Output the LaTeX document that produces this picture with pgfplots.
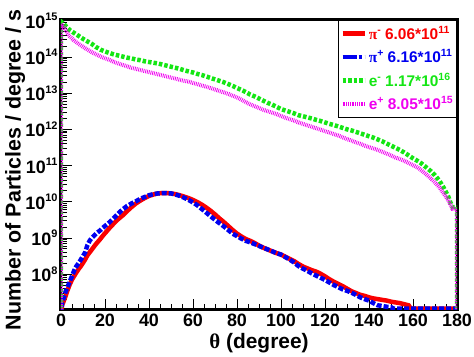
\documentclass[border=0pt]{standalone}
\usepackage{fontspec}
\setmainfont{Liberation Sans}
\newfontfamily\symf{Liberation Serif}
\usepackage{pgfplots}
\pgfplotsset{compat=1.18}
\definecolor{rgreen}{RGB}{20,230,20}
\definecolor{rmag}{RGB}{240,0,240}
\definecolor{rblue}{RGB}{0,0,240}
\definecolor{rred}{RGB}{250,0,0}
\newcommand\tp[1]{\mbox{10\raisebox{0.8ex}{\fontsize{11}{11}\selectfont #1}}}
\newcommand\lsup[1]{\raisebox{0.75ex}{\fontsize{10.5}{10.5}\selectfont #1}}
\begin{document}
\begin{tikzpicture}
\begin{axis}[
  scale only axis, width=396bp, height=290bp,
  xmin=0, xmax=180, ymin=7.01, ymax=15.02,
  axis line style={line width=3bp},
  tick align=inside, xtick pos=left, ytick pos=left,
  xtick={0,20,...,180}, minor x tick num=3,
  ytick={8,9,10,11,12,13,14,15},
  yticklabels={\tp{8},\tp{9},\tp{10},\tp{11},\tp{12},\tp{13},\tp{14},\tp{15}},
  minor ytick={7.301,7.477,7.602,7.699,7.778,7.845,7.903,7.954,
    8.301,8.477,8.602,8.699,8.778,8.845,8.903,8.954,
    9.301,9.477,9.602,9.699,9.778,9.845,9.903,9.954,
    10.301,10.477,10.602,10.699,10.778,10.845,10.903,10.954,
    11.301,11.477,11.602,11.699,11.778,11.845,11.903,11.954,
    12.301,12.477,12.602,12.699,12.778,12.845,12.903,12.954,
    13.301,13.477,13.602,13.699,13.778,13.845,13.903,13.954,
    14.301,14.477,14.602,14.699,14.778,14.845,14.903,14.954},
  major tick length=11bp, minor tick length=6bp,
  every tick/.style={black, line width=0.8bp},
  tick label style={font=\fontsize{18}{18}\selectfont\bfseries},
  /pgf/number format/assume math mode=true,
  xlabel={{\symf θ} (degree)},
  ylabel={Number of Particles / degree / s},
  xlabel style={at={(rel axis cs:0.5,-0.114)}, anchor=center, font=\fontsize{21}{22}\selectfont\bfseries},
  ylabel style={at={(rel axis cs:-0.116,0.483)}, anchor=center, font=\fontsize{21.5}{22}\selectfont\bfseries},
  legend style={at={(rel axis cs:1,1)}, anchor=north east, draw=black, line width=0.6bp, fill=white,
    font=\fontsize{15.5}{15.5}\selectfont\bfseries, row sep=4.5bp, inner xsep=2bp, inner ysep=4bp,
    nodes={inner xsep=2bp}},
  legend cell align=left,
]
\coordinate (sw) at (rel axis cs:0,0);
\coordinate (ne) at (rel axis cs:1,1);
% pi- (log10 values)
\addplot[rred, line width=4.5bp, forget plot] coordinates {
(0,6.9)(0.5,7.15)(1,7.22)(2,7.38)(3,7.56)(4,7.72)(5,7.85)(6,7.95)(7,8.05)(8,8.14)(9,8.22)(10,8.31)(11,8.41)(12,8.52)(13,8.6)(14,8.68)(15,8.76)(16,8.84)(17,8.91)(18,8.98)(19,9.06)(20,9.13)(22,9.27)(24,9.40)(26,9.52)(28,9.62)(30,9.74)(32,9.85)(34,9.95)(36,10.03)(38,10.10)(40,10.16)(42,10.20)(44,10.23)(46,10.24)(48,10.24)(50,10.23)(52,10.21)(54,10.18)(56,10.14)(58,10.10)(60,10.05)(62,9.99)(64,9.92)(66,9.84)(68,9.75)(70,9.65)(72,9.54)(74,9.44)(76,9.33)(78,9.22)(80,9.12)(82,9.04)(84,8.97)(86,8.92)(88,8.86)(90,8.79)(92,8.73)(94,8.68)(96,8.63)(98,8.58)(100,8.54)(102,8.48)(104,8.42)(106,8.36)(108,8.28)(110,8.21)(112,8.16)(114,8.11)(116,8.07)(118,8.01)(120,7.94)(122,7.86)(124,7.79)(126,7.73)(128,7.67)(130,7.6)(132,7.53)(134,7.48)(136,7.43)(138,7.40)(140,7.36)(142,7.33)(144,7.31)(146,7.29)(148,7.27)(150,7.24)(152,7.22)(154,7.2)(156,7.17)(158,7.14)(159,7.05)(180,7.05)};
% pi+
\addplot[rblue, line width=4.5bp, dash pattern=on 5bp off 2bp, forget plot] coordinates {
(0,6.9)(0.5,7.2)(1,7.3)(2,7.5)(3,7.65)(4,7.8)(5,7.95)(6,8.1)(7,8.22)(8,8.3)(9,8.4)(10,8.5)(11,8.6)(12,8.8)(13,8.92)(14,9.0)(15,9.06)(16,9.12)(17,9.17)(18,9.22)(19,9.28)(20,9.33)(22,9.43)(24,9.55)(26,9.67)(28,9.79)(30,9.88)(32,9.95)(34,10.01)(36,10.08)(38,10.13)(40,10.18)(42,10.21)(44,10.23)(46,10.24)(48,10.24)(50,10.23)(52,10.2)(54,10.16)(56,10.11)(58,10.05)(60,9.98)(62,9.9)(64,9.8)(66,9.7)(68,9.6)(70,9.5)(72,9.41)(74,9.32)(76,9.22)(78,9.12)(80,9.05)(82,8.98)(84,8.92)(86,8.88)(88,8.83)(90,8.78)(92,8.73)(94,8.68)(96,8.63)(98,8.58)(100,8.54)(102,8.47)(104,8.4)(106,8.32)(108,8.22)(110,8.15)(112,8.09)(114,8.02)(116,7.96)(118,7.9)(120,7.84)(122,7.77)(124,7.7)(126,7.64)(128,7.58)(130,7.54)(132,7.49)(134,7.43)(136,7.36)(138,7.31)(140,7.27)(142,7.2)(144,7.14)(146,7.12)(148,7.1)(150,7.09)(151,7.05)(180,7.05)};
% e-
\addplot[rgreen, line width=4.5bp, dash pattern=on 3.5bp off 2bp, forget plot] coordinates {
(0,6.9)(0,14.98)(1,14.92)(2,14.86)(3,14.8)(4,14.74)(6,14.66)(8,14.58)(10,14.5)(12,14.43)(14,14.36)(16,14.27)(18,14.2)(20,14.15)(22,14.11)(24,14.07)(26,14.04)(28,14.01)(30,13.98)(32,13.96)(34,13.93)(36,13.91)(38,13.88)(40,13.86)(42,13.84)(44,13.82)(46,13.79)(48,13.76)(50,13.73)(52,13.7)(54,13.67)(56,13.63)(58,13.6)(60,13.57)(62,13.53)(64,13.5)(66,13.46)(68,13.42)(70,13.38)(72,13.34)(74,13.3)(76,13.25)(78,13.2)(80,13.14)(82,13.09)(84,13.03)(86,12.96)(88,12.91)(90,12.85)(92,12.79)(94,12.73)(96,12.68)(98,12.62)(100,12.56)(102,12.52)(104,12.48)(106,12.44)(108,12.39)(110,12.36)(112,12.33)(114,12.3)(116,12.26)(118,12.23)(120,12.19)(122,12.15)(124,12.12)(126,12.08)(128,12.04)(130,12)(132,11.97)(134,11.93)(136,11.89)(138,11.85)(140,11.81)(142,11.77)(144,11.72)(146,11.67)(148,11.61)(150,11.55)(152,11.49)(154,11.43)(156,11.36)(158,11.28)(160,11.2)(162,11.13)(164,11.05)(166,10.95)(168,10.85)(170,10.73)(172,10.58)(174,10.38)(176,10.15)(177,9.98)(178,9.85)(180,9.85)(180,6.9)};
% e+
\addplot[rmag, line width=4bp, dash pattern=on 0.8bp off 1bp, forget plot] coordinates {
(0,6.9)(0,14.9)(1,14.85)(2,14.75)(3,14.65)(4,14.57)(5,14.51)(6,14.45)(8,14.36)(10,14.28)(12,14.2)(14,14.13)(16,14.07)(18,14.01)(20,13.96)(22,13.92)(24,13.86)(26,13.82)(28,13.78)(30,13.74)(32,13.7)(34,13.67)(36,13.64)(38,13.61)(40,13.58)(42,13.55)(44,13.52)(46,13.49)(48,13.46)(50,13.43)(52,13.4)(54,13.37)(56,13.34)(58,13.32)(60,13.28)(62,13.25)(64,13.21)(66,13.18)(68,13.14)(70,13.1)(72,13.06)(74,13.02)(76,12.98)(78,12.93)(80,12.88)(82,12.82)(84,12.75)(86,12.69)(88,12.64)(90,12.59)(92,12.54)(94,12.5)(96,12.46)(98,12.42)(100,12.37)(102,12.32)(104,12.28)(106,12.24)(108,12.19)(110,12.15)(112,12.11)(114,12.07)(116,12.03)(118,11.99)(120,11.95)(122,11.91)(124,11.87)(126,11.83)(128,11.78)(130,11.73)(132,11.69)(134,11.64)(136,11.6)(138,11.55)(140,11.51)(142,11.47)(144,11.43)(146,11.38)(148,11.33)(150,11.28)(152,11.22)(154,11.18)(156,11.13)(158,11.07)(160,11.01)(162,10.95)(164,10.86)(166,10.76)(168,10.65)(170,10.53)(172,10.4)(174,10.22)(176,10.05)(177,9.92)(178,9.8)(180,9.8)(180,6.9)};
\addlegendimage{legend image code/.code={\draw[rred,line width=4.5bp] (0bp,0bp) -- (22bp,0bp);}}
\addlegendentry{\textcolor{rred}{{\symf π}\lsup{-} 6.06*10\lsup{11}}}
\addlegendimage{legend image code/.code={\draw[rblue,line width=4.5bp,dash pattern=on 14bp off 2bp on 3bp off 3bp] (0bp,0bp) -- (22bp,0bp);}}
\addlegendentry{\textcolor{rblue}{{\symf π}\lsup{+} 6.16*10\lsup{11}}}
\addlegendimage{legend image code/.code={\draw[rgreen,line width=4.5bp,dash pattern=on 3.5bp off 2bp] (0bp,0bp) -- (22bp,0bp);}}
\addlegendentry{\textcolor{rgreen}{e\lsup{-} 1.17*10\lsup{16}}}
\addlegendimage{legend image code/.code={\draw[rmag,line width=4bp,dash pattern=on 0.8bp off 1bp] (0bp,0bp) -- (22bp,0bp);}}
\addlegendentry{\textcolor{rmag}{e\lsup{+} 8.05*10\lsup{15}}}
\end{axis}
\pgfresetboundingbox
\path ([shift={(-61bp,-47bp)}]sw) rectangle ([shift={(17bp,20bp)}]ne);
\end{tikzpicture}
\end{document}
